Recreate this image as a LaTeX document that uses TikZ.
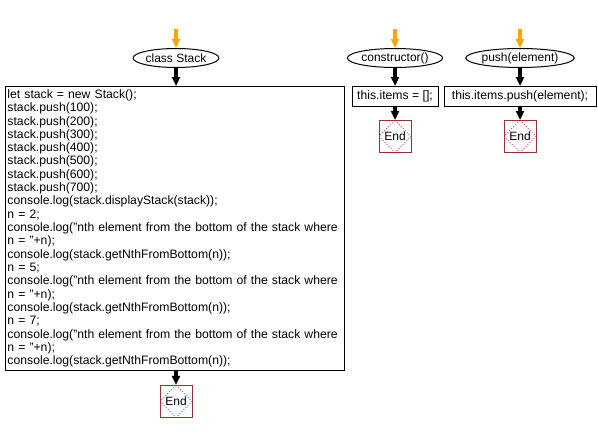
\documentclass[tikz,border=0pt]{standalone}
\usepackage{fontspec}
\setmainfont{Liberation Sans}
\usetikzlibrary{shapes.geometric,arrows.meta,positioning}
\definecolor{entryorange}{HTML}{FFA500}
\definecolor{endred}{HTML}{993333}
\definecolor{dotred}{HTML}{CC2222}

\begin{document}
\begin{tikzpicture}[x=1pt,y=-1pt,node distance=18pt,
  flow/.style={-{Triangle[width=8pt,length=9pt]},line width=3.5pt,black},
  entry/.style={-{Triangle[width=8pt,length=9pt]},line width=3.5pt,entryorange},
  start node/.style={ellipse,draw,line width=1pt,inner sep=0pt,minimum height=19pt,font=\fontsize{12}{13.33}\selectfont},
  code node/.style={rectangle,draw,line width=1pt,inner sep=2pt,align=left,minimum height=20pt,font=\fontsize{12.2}{13.33}\selectfont},
  end node/.style={rectangle,draw=endred,line width=1pt,minimum size=32pt,inner sep=0pt,font=\fontsize{12}{14}\selectfont,
    path picture={\draw[dotred,dotted,line width=0.8pt] (path picture bounding box.north) -- (path picture bounding box.east)
      -- (path picture bounding box.south) -- (path picture bounding box.west) -- cycle;}}]
			
			\useasboundingbox (0,0) rectangle (598,432);
			
			% class Stack
			\node[start node, minimum width=78pt] (cls) at (176,58) {class Stack};
			\node[code node, text width=335pt, inner ysep=3pt, below=of cls, xshift=-1pt] (body) {let stack = new Stack();\\
				stack.push(100);\\
				stack.push(200);\\
				stack.push(300);\\
				stack.push(400);\\
				stack.push(500);\\
				stack.push(600);\\
				stack.push(700);\\
				console.log(stack.displayStack(stack));\\
				n = 2;\\
				console.log("nth element from the bottom of the stack where\\
				n = "+n);\\
				console.log(stack.getNthFromBottom(n));\\
				n = 5;\\
				console.log("nth element from the bottom of the stack where\\
				n = "+n);\\
				console.log(stack.getNthFromBottom(n));\\
				n = 7;\\
				console.log("nth element from the bottom of the stack where\\
				n = "+n);\\
				console.log(stack.getNthFromBottom(n));};
			\node[end node, below=14pt of body, xshift=1pt] (end1) {End};
			
			% constructor
			\node[start node, minimum width=84pt] (ctor) at (395,58) {constructor()};
			\node[code node, minimum width=86pt, below=of ctor] (init) {this.items = [];};
			\node[end node, below=13pt of init] (end2) {End};
			
			% push
			\node[start node, minimum width=97pt] (push) at (520,58) {push(element)};
			\node[code node, minimum width=152pt, below=of push] (add) {this.items.push(element);};
			\node[end node, below=13pt of add] (end3) {End};
			
			\coordinate (in1) at (176,29);
			\coordinate (in2) at (395,29);
			\coordinate (in3) at (520,29);
			
			\draw[entry] (in1) -- (cls);
			\draw[entry] (in2) -- (ctor);
			\draw[entry] (in3) -- (push);
			
			\draw[flow] (cls) -- (cls |- body.north);
			\draw[flow] (end1 |- body.south) -- (end1);
			\draw[flow] (ctor) -- (init);
			\draw[flow] (init) -- (end2);
			\draw[flow] (push) -- (add);
			\draw[flow] (add) -- (end3);

		\end{tikzpicture}
\end{document}
